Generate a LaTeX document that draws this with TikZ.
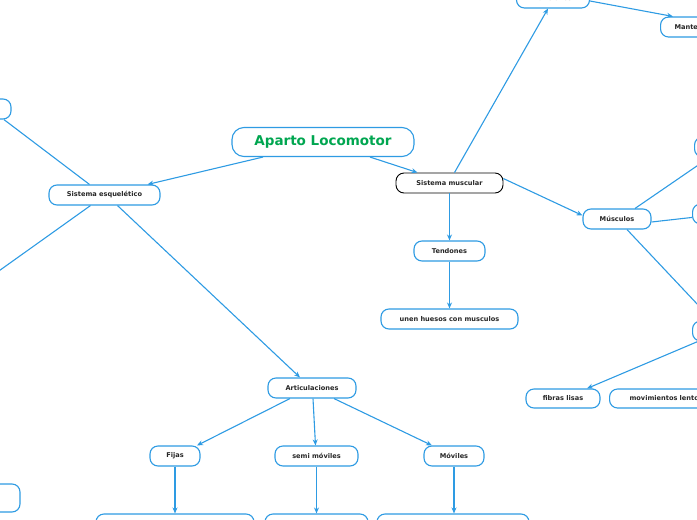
\documentclass[tikz,border=0pt]{standalone}
\usepackage{fontspec}
\setmainfont{DejaVu Sans}
\usetikzlibrary{arrows.meta}
\definecolor{lb}{HTML}{2E9BE3}
\definecolor{tg}{HTML}{00A650}
\tikzset{
 box/.style={draw=lb,line width=1.1pt,rounded corners=8pt,fill=white,inner sep=0pt,font=\fontsize{6.6}{8}\selectfont\bfseries,text=black!85},
 conn/.style={draw=lb,line width=1.1pt},
 arr/.style={conn,-{Stealth[length=6pt,width=5pt]}}
}
\begin{document}
\begin{tikzpicture}[x=1pt,y=-1pt]
\useasboundingbox (0,0) rectangle (697,520);
\node[box,minimum width=182pt,minimum height=29pt,rounded corners=12pt,font=\fontsize{13.5}{16}\selectfont\bfseries,text=tg] (t) at (323,142) {Aparto Locomotor};
\node[box,minimum width=111pt,minimum height=20pt] (se) at (104.5,195) {Sistema esquelético};
\node[box,draw=black,line width=0.9pt,minimum width=107pt,minimum height=20pt] (sm) at (449.5,183) {Sistema muscular};
\node[box,minimum width=73pt,minimum height=20pt] (fu) at (553,-2) {Funciones};
\node[box,minimum width=90pt,minimum height=20pt,anchor=west,text width=80pt,align=left] (ma) at (660,27) {\hspace*{9pt}Mantenimiento};
\node[box,minimum width=68pt,minimum height=20pt] (mu) at (617,219) {Músculos};
\node[box,minimum width=60pt,minimum height=20pt,anchor=west] (r1) at (694,147) {};
\node[box,minimum width=60pt,minimum height=20pt,anchor=west] (r2) at (692,214) {};
\node[box,minimum width=60pt,minimum height=20pt,anchor=west] (r3) at (692,331) {};
\node[box,minimum width=74pt,minimum height=19pt] (fl) at (563,398.5) {fibras lisas};
\node[box,minimum width=100pt,minimum height=19pt,anchor=west,text width=90pt,align=left] (ml) at (609,398.5) {\hspace*{15pt}movimientos lentos};
\node[box,minimum width=71pt,minimum height=20pt] (te) at (449.5,251) {Tendones};
\node[box,minimum width=137pt,minimum height=20pt] (un) at (449.5,319) {unen huesos con musculos};
\node[box,minimum width=42pt,minimum height=20pt] (l1) at (-10,109) {};
\node[box,minimum width=40pt,minimum height=28pt] (l2) at (0,498) {};
\node[box,minimum width=88pt,minimum height=20pt] (ar) at (312,388) {Articulaciones};
\node[box,minimum width=50pt,minimum height=20pt] (fi) at (175,456) {Fijas};
\node[box,minimum width=83pt,minimum height=20pt] (sv) at (316.5,456) {semi móviles};
\node[box,minimum width=60pt,minimum height=20pt] (mv) at (454,456) {Móviles};
\node[box,minimum width=158pt,minimum height=20pt] (b1) at (175,524) {};
\node[box,minimum width=103pt,minimum height=20pt] (b2) at (316.5,524) {};
\node[box,minimum width=152pt,minimum height=20pt] (b3) at (453,524) {};
\coordinate (lo) at (-60,313);
\draw[arr] ([xshift=-60pt]t.south) -- ([xshift=43pt]se.north);
\draw[arr] ([xshift=47pt]t.south) -- ([xshift=-32pt]sm.north);
\draw[arr] ([xshift=5pt]sm.north) -- ([xshift=-5pt]fu.south);
\draw[arr] ([yshift=-3pt]fu.east) -- ([xshift=13pt]ma.north west);
\draw[arr] ([yshift=-6pt]sm.north east) -- ([yshift=-7pt]mu.north west);
\draw[conn] ([xshift=18pt]mu.north) -- (r1);
\draw[conn] ([yshift=-3pt]mu.east) -- (r2);
\draw[conn] ([xshift=10pt]mu.south) -- (r3);
\draw[arr] (r3) -- ([xshift=24pt]fl.north);
\draw[arr] (sm) -- (te);
\draw[arr] (te) -- (un);
\draw[conn] (l1) -- ([xshift=-15pt]se.north);
\draw[conn] ([xshift=-14pt]se.south) -- (lo);
\draw[arr] ([xshift=13pt]se.south) -- ([xshift=-12pt]ar.north);
\draw[arr] ([xshift=-22pt]ar.south) -- ([xshift=22pt]fi.north);
\draw[arr] ([xshift=1pt]ar.south) -- ([xshift=-1pt]sv.north);
\draw[arr] ([xshift=22pt]ar.south) -- ([xshift=-22pt]mv.north);
\draw[arr] (fi.south) -- (b1.north);
\draw[arr] (sv.south) -- (b2.north);
\draw[arr] (mv.south) -- ([xshift=1pt]b3.north);
\end{tikzpicture}
\end{document}
